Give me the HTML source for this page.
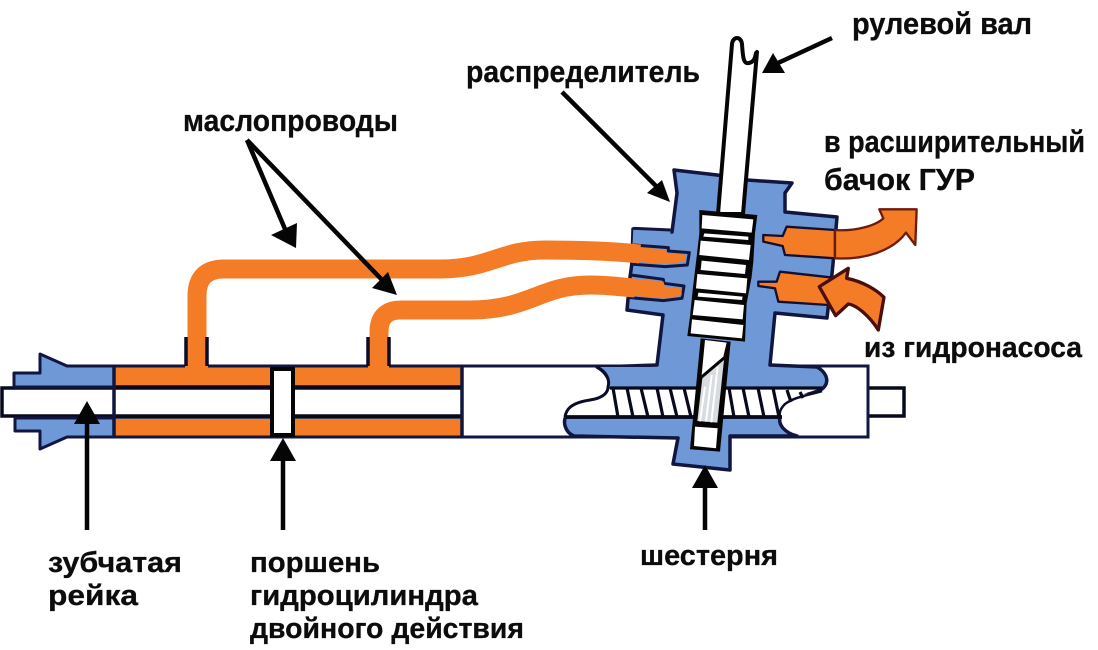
<!DOCTYPE html>
<html><head><meta charset="utf-8"><style>
html,body{margin:0;padding:0;background:#fff}
svg{display:block}
text{font-family:"Liberation Sans","DejaVu Sans",sans-serif;font-weight:700;font-size:29px;fill:#0c0c0c;stroke:#0c0c0c;stroke-width:.3}
text.t{font-size:31px}
</style></head><body>
<svg width="1098" height="650" viewBox="0 0 1098 650" xmlns="http://www.w3.org/2000/svg">
<!-- rack stub -->
<rect x="2" y="388" width="902" height="28" fill="#fff" stroke="#070a1c" stroke-width="3.5"/>
<!-- outer cylinder -->
<rect x="462" y="366" width="406" height="71" fill="#fff" stroke="#10163f" stroke-width="3"/>
<!-- left blue end -->
<path d="M114 366H67L40 354V373H14V387H114Z" fill="#6f98d6" stroke="#10163f" stroke-width="3" stroke-linejoin="round"/>
<path d="M114 418V437H67L40 449V431H15V418Z" fill="#6f98d6" stroke="#10163f" stroke-width="3" stroke-linejoin="round"/>
<!-- cylinder orange -->
<rect x="114" y="366" width="158" height="20" fill="#f47c26"/>
<rect x="294" y="366" width="168" height="20" fill="#f47c26"/>
<rect x="114" y="419" width="158" height="17" fill="#f47c26"/>
<rect x="294" y="419" width="168" height="17" fill="#f47c26"/>
<path d="M114 366H185M208 366H368M389 366H462M114 437H462" stroke="#10163f" stroke-width="3" fill="none"/>
<path d="M114 387H270M295 387H462M114 417H270M295 417H462" stroke="#070a1c" stroke-width="3.5" fill="none"/>
<path d="M114 366V437M462 366V437" stroke="#10163f" stroke-width="3.5" fill="none"/>
<!-- piston -->
<rect x="272" y="369" width="21" height="66" fill="#fff" stroke="#050505" stroke-width="4"/>
<!-- blue housing -->
<path d="M674 170L717 175L747 180L792 183L785 193L785 212L837 217L833 264L832 274L827 318L775 313L770 365L817 367C826 372 829 380 825 386C822 390 818 392 812 392L620 390L610 387C610 380 606 372 597 367L657 365L663 315L627 310L630 277L632 263L633 229L672 232L677 193Z" fill="#6f98d6" stroke="#10163f" stroke-width="3.5" stroke-linejoin="round"/>
<path d="M574 436C564 432 563 420 566 417H780C778 425 785 433 797 436H730V470L673 464L678 438Z" fill="#6f98d6" stroke="#10163f" stroke-width="3.5" stroke-linejoin="round"/>
<path d="M597 367C607 372 610 380 608 387L657 388V367Z" fill="#6f98d6"/>
<!-- teeth area -->
<path d="M612 389H818C805 394 795 395 785 402C778 408 778 412 780 417H566C566 412 570 406 580 403C590 400 604 400 612 392Z" fill="#fff"/>
<path d="M597 367C607 372 610 380 608 387C608 392 604 398 590 400C570 403 566 410 565 417" fill="none" stroke="#0a0c2c" stroke-width="3"/>
<path d="M610 388H822" stroke="#070a1c" stroke-width="3.2"/>
<path d="M566 417H782" stroke="#070a1c" stroke-width="3.8"/>
<path d="M822 391C805 396 795 397 785 404C780 409 779 413 780 418" fill="none" stroke="#0a0c2c" stroke-width="2.5"/>
<path d="M613 388L618 417M627 388L633 417M641 388L648 417M657 388L663 417M670 388L677 417M684 388L691 417M729 388L734 417M743 388L749 417M758 388L764 417M773 388L779 417M787 390L791 402M800 392L803 398" stroke="#070a1c" stroke-width="3.2" fill="none"/>
<!-- upper shaft -->
<path d="M718 214L732 44C733 36 741 36 742 44C743 60 744 64 749 63C754 62 755 58 756 53L757 52L743 214Z" fill="#fff" stroke="#050505" stroke-width="4" stroke-linejoin="round"/>
<!-- port group in 3x coordinates -->
<g transform="translate(600 150) scale(.3333)">
  <path d="M100 235L212 240L207 293L268 300L262 345L190 350L95 340Z" fill="#6f98d6" stroke="none"/>
  <path d="M100 235L212 240M100 285L205 293L205 303L268 308L262 345L195 350L90 342" fill="none" stroke="#10163f" stroke-width="9" stroke-linejoin="round"/>
  <path d="M92 375L190 388L192 400L252 408L246 445L190 452L80 442" fill="none" stroke="#10163f" stroke-width="9" stroke-linejoin="round"/>
  <path d="M90 290L195 298L205 310L255 313L255 335L195 342L90 334Z" fill="#f47c26"/>
  <path d="M80 384L190 394L195 410L245 416L245 436L195 446L80 436Z" fill="#f47c26"/>
  <path d="M490 255L548 258L560 230L705 240L705 325L555 315L548 288L490 275Z" fill="#f47c26" stroke="#120f30" stroke-width="7" stroke-linejoin="round"/>
  <path d="M705 240C770 245 830 225 850 205L838 178L950 178L946 285L918 248C880 300 800 330 705 325Z" fill="#f47c26" stroke="#6e1a0c" stroke-width="7" stroke-linejoin="round"/>
  <path d="M475 395L530 395L540 365L690 382L685 465L535 455L525 415L475 408Z" fill="#f47c26" stroke="#120f30" stroke-width="7" stroke-linejoin="round"/>
  <path d="M658 410L745 355L740 385C790 395 830 420 852 442L835 540C810 500 770 465 745 462L707 497Z" fill="#f47c26" stroke="#4a0f0c" stroke-width="10" stroke-linejoin="round"/>
</g>
<!-- pipes -->
<path d="M197 368V296Q197 269 224 269H440C490 269 500 250 545 250C580 250 610 251 640 254" fill="none" stroke="#f47c26" stroke-width="19"/>
<path d="M379 368V332Q379 310 401 310H470C530 310 540 285 590 285C610 285 620 287 635 288" fill="none" stroke="#f47c26" stroke-width="19"/>
<path d="M186 337V366M207 337V366M368 337V366M389 337V366" stroke="#0a0c2c" stroke-width="3.5"/>
<!-- spool group in 3x coordinates -->
<g transform="translate(670 200) scale(.3333)">
  <path d="M88 30L262 45L255 100L250 185L245 230L230 310L225 425L52 408L60 350L68 270L80 170L88 100Z" fill="#050505"/>
  <g fill="#fff">
    <path d="M97 45L250 58L245 98L95 85Z"/>
    <path d="M103 100L235 110L235 120L100 110Z"/>
    <path d="M92 122L242 135L237 180L88 165Z"/>
    <path d="M95 182L228 195L225 222L92 210Z"/>
    <path d="M82 222L232 235L228 280L78 265Z"/>
    <path d="M85 278L218 290L216 300L83 290Z"/>
    <path d="M74 300L222 315L218 358L68 345Z"/>
    <path d="M66 358L220 375L216 415L62 400Z"/>
  </g>
  <path d="M92 415L182 425L150 755L60 748Z" fill="#050505"/>
  <path d="M105 420L170 428L160 470L95 525Z" fill="#fff"/>
  <path d="M97 535L162 480L142 668L82 663Z" fill="#d8dbe0"/>
  <path d="M105 560L90 664M125 525L108 665M143 500L124 667" stroke="#fff" stroke-width="6" fill="none"/>
  <path d="M75 680L143 685L138 745L72 738Z" fill="#fff"/>
</g>
<!-- black arrows -->
<g fill="#050505" stroke="none">
  <path d="M832 38L778 63" stroke="#050505" stroke-width="4.5"/>
  <path d="M762 73L773 53L785 73Z"/>
  <path d="M562 92L660 190" stroke="#050505" stroke-width="4.5"/>
  <path d="M670 202L662 180L647 193Z"/>
  <path d="M247 140L288 236" stroke="#050505" stroke-width="4.5"/>
  <path d="M296 248L297 223L271 235Z"/>
  <path d="M247 140L386 284" stroke="#050505" stroke-width="4.5"/>
  <path d="M397 295L388 272L372 288Z"/>
  <path d="M87 530V420" stroke="#050505" stroke-width="4.5"/>
  <path d="M87 401L100 424H74Z"/>
  <path d="M283 530V455" stroke="#050505" stroke-width="4.5"/>
  <path d="M283 438L296 461H270Z"/>
  <path d="M705 530V482" stroke="#050505" stroke-width="4.5"/>
  <path d="M705 465L718 488H692Z"/>
</g>
<!-- labels -->
<text class="t" x="852" y="34" textLength="180" lengthAdjust="spacingAndGlyphs">рулевой вал</text>
<text class="t" x="466" y="82" textLength="234" lengthAdjust="spacingAndGlyphs">распределитель</text>
<text class="t" x="183" y="131" textLength="215" lengthAdjust="spacingAndGlyphs">маслопроводы</text>
<text class="t" x="824" y="152" textLength="261" lengthAdjust="spacingAndGlyphs">в расширительный</text>
<text class="t" x="824" y="190" textLength="151" lengthAdjust="spacingAndGlyphs">бачок ГУР</text>
<text x="864" y="357" textLength="218" lengthAdjust="spacingAndGlyphs">из гидронасоса</text>
<text x="48" y="572" textLength="134" lengthAdjust="spacingAndGlyphs">зубчатая</text>
<text x="48" y="605" textLength="90" lengthAdjust="spacingAndGlyphs">рейка</text>
<text x="250" y="572" textLength="130" lengthAdjust="spacingAndGlyphs">поршень</text>
<text x="250" y="605" textLength="228" lengthAdjust="spacingAndGlyphs">гидроцилиндра</text>
<text x="250" y="638" textLength="274" lengthAdjust="spacingAndGlyphs">двойного действия</text>
<text x="640" y="565" textLength="138" lengthAdjust="spacingAndGlyphs">шестерня</text>
</svg>
</body></html>
